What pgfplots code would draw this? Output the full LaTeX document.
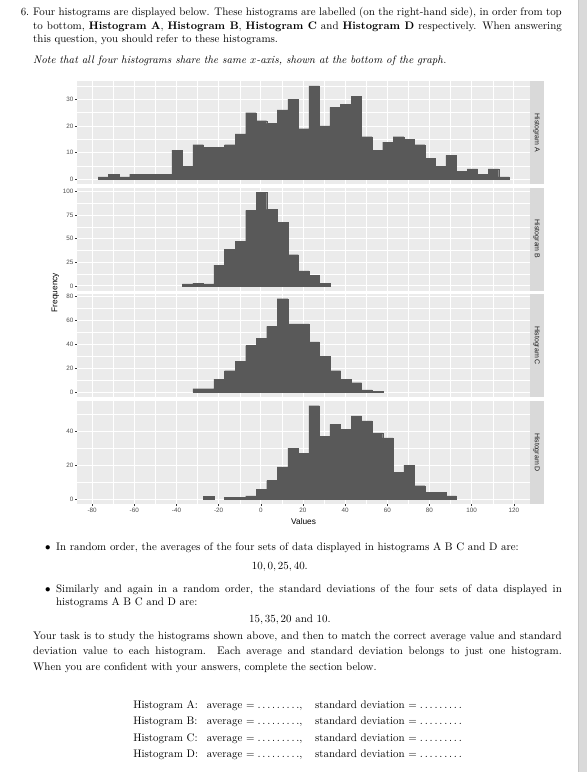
\documentclass[border=0pt]{standalone}
\usepackage{fontspec}
\usepackage{pgfplots}
\pgfplotsset{compat=1.18}
\newfontfamily\chartfont{Liberation Sans}
\definecolor{ggbg}{HTML}{EBEBEB}
\definecolor{ggbar}{HTML}{595959}
\definecolor{ggstrip}{HTML}{D9D9D9}
\definecolor{ggtick}{HTML}{4D4D4D}
\definecolor{ggtickmark}{HTML}{333333}
\definecolor{ggstriptext}{HTML}{1A1A1A}
\definecolor{edgebar}{HTML}{DADADA}
\pgfplotsset{
  ggpanel/.style={
    scale only axis, width=452.6pt, height=103pt,
    xmin=-86.95, xmax=127.55,
    axis background/.style={fill=ggbg},
    axis line style={draw=none},
    grid=both,
    major grid style={white, line width=0.8pt},
    minor grid style={white, line width=0.35pt},
    xtick={-80,-60,...,120},
    minor xtick={-70,-50,...,110},
    tick align=outside,
    major tick length=2.2pt, minor tick length=0pt,
    tick style={ggtickmark, line width=0.5pt},
    tick pos=left,
    tick label style={font=\chartfont\fontsize{6.3}{7}\selectfont, text=ggtick, inner sep=1.6pt},
    anchor=north west,
  },
  ggbars/.style={ybar interval, fill=ggbar, draw=ggbar, line width=0.2pt},
}
\newcommand\tx{\fontsize{10.95}{13.6}\selectfont}
\begin{document}
\begin{tikzpicture}[x=1pt,y=1pt]
\fill[white] (0,0) rectangle (587,-772);
\fill[edgebar] (578.5,0) rectangle (587,-772);
\draw[gray!45, line width=0.5pt] (578.5,0) -- (578.5,-772);

% ---------- top text ----------
\node[anchor=base east, inner sep=0pt, font=\tx] at (29.5,-15.5) {6.};
\node[anchor=base west, inner sep=0pt, font=\tx] at (33,-15.5) {\makebox[529pt][s]{Four histograms are displayed below. These histograms are labelled (on the right-hand side), in order from top}};
\node[anchor=base west, inner sep=0pt, font=\tx] at (33,-29.1) {\makebox[529pt][s]{to bottom, \textbf{Histogram A}, \textbf{Histogram B}, \textbf{Histogram C} and \textbf{Histogram D} respectively. When answering}};
\node[anchor=base west, inner sep=0pt, font=\tx] at (33,-42.7) {this question, you should refer to these histograms.};
\node[anchor=base west, inner sep=0pt, font=\tx] at (33,-63.5) {\textit{Note that all four histograms share the same $x$-axis, shown at the bottom of the graph.}};

% ---------- Histogram A ----------
\begin{axis}[ggpanel, at={(77.5pt,-81pt)},
  ymin=-1.75, ymax=36.75, ytick={0,10,20,30}, minor ytick={5,15,25,35},
  yticklabels={0,10,20,30}, xticklabels={}, xtick style={draw=none}]
\addplot[ggbars] coordinates {
(-77.2,1) (-72.2,2) (-67.2,1) (-62.2,2) (-57.2,2) (-52.2,2) (-47.2,2) (-42.2,11)
(-37.2,5) (-32.2,13) (-27.2,12) (-22.2,12) (-17.2,13) (-12.2,17) (-7.2,25) (-2.2,22)
(2.8,21) (7.8,26) (12.8,30) (17.8,19) (22.8,35) (27.8,20) (32.8,27) (37.8,28)
(42.8,31) (47.8,16) (52.8,11) (57.8,14) (62.8,16) (67.8,15) (72.8,13) (77.8,8)
(82.8,5) (87.8,9) (92.8,3) (97.8,4) (102.8,2) (107.8,4) (112.8,1) (117.8,0)};
\end{axis}

% ---------- Histogram B ----------
\begin{axis}[ggpanel, at={(77.5pt,-187.5pt)},
  ymin=-4.95, ymax=103.95, ytick={0,25,50,75,100}, minor ytick={12.5,37.5,62.5,87.5},
  yticklabels={0,25,50,75,100}, xticklabels={}, xtick style={draw=none}]
\addplot[ggbars] coordinates {
(-37.2,2) (-32.2,3) (-27.2,2) (-22.2,22) (-17.2,39) (-12.2,47) (-7.2,80) (-2.2,99)
(2.8,81) (7.8,67) (12.8,33) (17.8,16) (22.8,11) (27.8,3) (32.8,0)};
\end{axis}

% ---------- Histogram C ----------
\begin{axis}[ggpanel, at={(77.5pt,-294pt)},
  ymin=-3.9, ymax=81.9, ytick={0,20,40,60,80}, minor ytick={10,30,50,70},
  yticklabels={0,20,40,60,80}, xticklabels={}, xtick style={draw=none}]
\addplot[ggbars] coordinates {
(-32.2,3) (-27.2,3) (-22.2,11) (-17.2,18) (-12.2,26) (-7.2,39) (-2.2,45) (2.8,55)
(7.8,78) (12.8,57) (17.8,57) (22.8,42) (27.8,30) (32.8,18) (37.8,11) (42.8,8)
(47.8,2) (52.8,1) (57.8,0)};
\end{axis}

% ---------- Histogram D ----------
\begin{axis}[ggpanel, at={(77.5pt,-401pt)},
  ymin=-2.75, ymax=57.75, ytick={0,20,40}, minor ytick={10,30,50},
  yticklabels={0,20,40},
  xticklabels={-80,-60,-40,-20,0,20,40,60,80,100,120}]
\addplot[ggbars] coordinates {(-27.2,2) (-22.2,0)};
\addplot[ggbars] coordinates {
(-17.2,1) (-12.2,1) (-7.2,2) (-2.2,6) (2.8,11) (7.8,19) (12.8,30) (17.8,27)
(22.8,55) (27.8,37) (32.8,44) (37.8,41) (42.8,49) (47.8,46) (52.8,39) (57.8,36)
(62.8,16) (67.8,20) (72.8,8) (77.8,4) (82.8,4) (87.8,2) (92.8,0)};
\end{axis}

% strips
\foreach \t/\b/\l in {81/184/A, 187.5/290.5/B, 294/397/C, 401/504/D}{
  \fill[ggstrip] (530.1,-\t) rectangle (544,-\b);
  \node[rotate=-90, inner sep=0pt, font=\chartfont\fontsize{7}{8}\selectfont, text=ggstriptext]
    at (537.1,{-(\t+\b)/2}) {Histogram \l};
}
\node[rotate=90, inner sep=0pt, font=\chartfont\fontsize{8.3}{9}\selectfont] at (55.5,-292.5) {Frequency};
\node[inner sep=0pt, font=\chartfont\fontsize{8.3}{9}\selectfont] at (303.8,-521.7) {Values};

% ---------- bottom text ----------
\node[anchor=base west, inner sep=0pt, font=\tx] at (45,-550.5) {$\bullet$};
\node[anchor=base west, inner sep=0pt, font=\tx] at (56,-550.5) {In random order, the averages of the four sets of data displayed in histograms A B C and D are:};
\node[anchor=base, inner sep=0pt, font=\tx] at (280,-569.5) {$10, 0, 25, 40.$};
\node[anchor=base west, inner sep=0pt, font=\tx] at (45,-592.5) {$\bullet$};
\node[anchor=base west, inner sep=0pt, font=\tx] at (56,-592.5) {\makebox[506pt][s]{Similarly and again in a random order, the standard deviations of the four sets of data displayed in}};
\node[anchor=base west, inner sep=0pt, font=\tx] at (56,-605.5) {histograms A B C and D are:};
\node[anchor=base, inner sep=0pt, font=\tx] at (290,-622.5) {$15, 35, 20$ and $10$.};
\node[anchor=base west, inner sep=0pt, font=\tx] at (33,-639.5) {\makebox[529pt][s]{Your task is to study the histograms shown above, and then to match the correct average value and standard}};
\node[anchor=base west, inner sep=0pt, font=\tx] at (33,-654.8) {\makebox[529pt][s]{deviation value to each histogram. Each average and standard deviation belongs to just one histogram.}};
\node[anchor=base west, inner sep=0pt, font=\tx] at (33,-670.5) {When you are confident with your answers, complete the section below.};

\foreach \y/\l in {708.8/A, 725.1/B, 741.4/C, 757.7/D}{
  \node[anchor=base west, inner sep=0pt, font=\tx] at (133.3,-\y) {Histogram \l:};
  \node[anchor=base west, inner sep=0pt, font=\tx] at (206.7,-\y) {average $=\ldots\ldots\ldots$,};
  \node[anchor=base west, inner sep=0pt, font=\tx] at (315,-\y) {standard deviation $=\ldots\ldots\ldots$};
}
\end{tikzpicture}
\end{document}
